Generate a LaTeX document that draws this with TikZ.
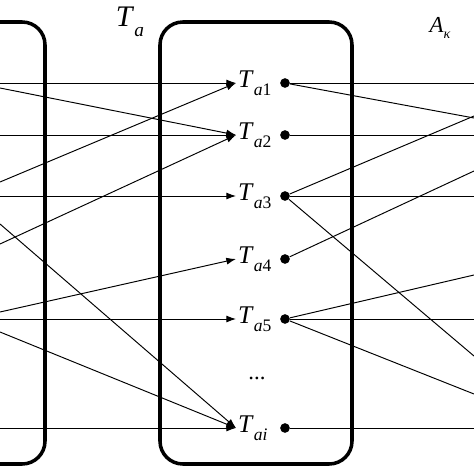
\documentclass[tikz,border=0pt]{standalone}
\usepackage{fontspec}
\setmainfont{Liberation Serif}
\usetikzlibrary{arrows.meta}
\newcommand{\Tsub}[1]{\textit{T}\raisebox{-0.7ex}{\fontsize{10}{10}\selectfont\textit{a}#1}}

\begin{document}
\begin{tikzpicture}[x=0.02cm,y=-0.02cm,
	box/.style={line width=2pt,rounded corners=13pt},
	link/.style={line width=0.55pt},
	arr/.style={link,-{Latex[length=5.5pt,width=4pt]}},
	dot/.style={circle,fill,inner sep=0pt,minimum size=5.5pt}]
		\clip (0,0) rectangle (474,474);
		\draw[box] (-120,22) rectangle (45,464);
		\draw[box] (160,22) rectangle (352,464);
		\node (ta) at (130,22) {\fontsize{17}{17}\selectfont\textit{T}\raisebox{-0.7ex}{\fontsize{11}{11}\selectfont\textit{a}}};
		\node (ak) at (440,28) {\fontsize{13}{13}\selectfont\textit{A}\raisebox{-0.6ex}{\fontsize{8}{8}\selectfont\textit{κ}}};
		% middle set
		\foreach \n/\s/\y in
		{
			1/1/83, 2/2/135, 3/3/196, 4/4/259, 5/5/319, i/\textit{i}/428
		}
		{
			\node[anchor=west,inner sep=1pt,font=\fontsize{14.5}{16}\selectfont] (t\n) at (236,\y) {\Tsub{\s}};
			\node[dot] (d\n) at (285,\y) {};
		}
		\node[font=\fontsize{13}{13}\selectfont] (etc) at (257,378) {...};
		% arrows from the left set
		\foreach \y/\t [count=\k] in
		{
			83/1, 135/2, 196/3, 319/5, 428/i,
			88/2, 182/1, 244/2, 224/i, 312/4, 332/i}
		{
			\coordinate (l\k) at (0,\y);
			\draw[arr] (l\k) -- (t\t.west);
		}
		% links to the right set
		\foreach \s/\y [count=\k] in
		{
			1/83, 1/118, 2/135, 3/116, 3/196, 3/356,
			4/171, 5/275, 5/319, 5/394, i/428
		}
		{
			\coordinate (r\k) at (474,\y);
			\draw[link] (d\s) -- (r\k);
		}
		\end{tikzpicture}
\end{document}
